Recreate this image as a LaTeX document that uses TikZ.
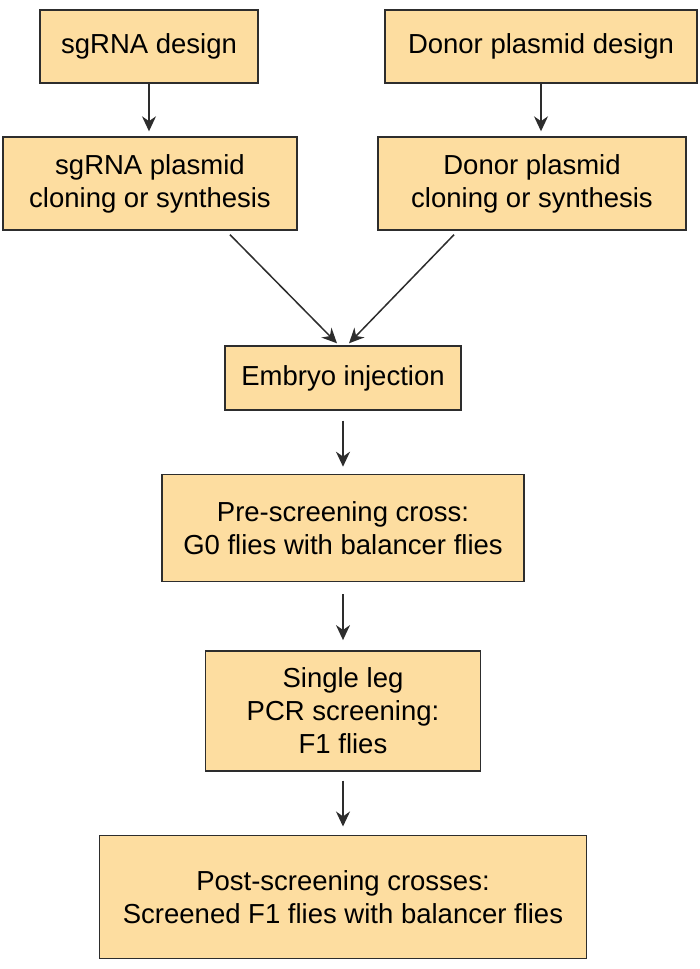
\documentclass[tikz,border=0pt]{standalone}
\usepackage{fontspec}
\setmainfont{Liberation Sans}
\usepackage{tikz}
\usetikzlibrary{arrows.meta, positioning, calc}

\definecolor{boxfill}{RGB}{253,221,160}
\definecolor{boxline}{RGB}{45,45,45}

\begin{document}
\begin{tikzpicture}[x=1pt, y=-1pt, >={Stealth[length=15pt,width=14pt]}]
        \tikzstyle{stepbox} = [rectangle, draw=boxline, line width=1.4pt, fill=boxfill, align=center, inner sep=0pt, font=\fontsize{27.5}{33}\selectfont]
        \tikzstyle{arrow} = [line width=1.5pt, draw=boxline, ->]

        \useasboundingbox (0,0) rectangle (700,969);

        \node (sgdesign) [stepbox, minimum width=218pt, minimum height=73pt] at (149,46.5) {sgRNA design};
        \node (dodesign) [stepbox, minimum width=312pt, minimum height=73pt] at (541,46.5) {Donor plasmid design};
        \node (sgclone) [stepbox, minimum width=294pt, minimum height=93pt] at (150,183.5) {sgRNA plasmid\\cloning or synthesis};
        \node (doclone) [stepbox, minimum width=308pt, minimum height=93pt] at (532,183.5) {Donor plasmid\\cloning or synthesis};
        \node (inject) [stepbox, minimum width=236pt, minimum height=64pt] at (343,378) {Embryo injection};
        \node (precross) [stepbox, minimum width=362pt, minimum height=107pt, below=63pt of inject] {Pre-screening cross:\\G0 flies with balancer flies};
        \node (legpcr) [stepbox, minimum width=275pt, minimum height=120pt, below=68pt of precross] {Single leg\\PCR screening:\\F1 flies};
        \node (postcross) [stepbox, minimum width=487pt, minimum height=123pt, below=63pt of legpcr] {Post-screening crosses:\\Screened F1 flies with balancer flies};

        \draw [arrow, shorten >=5pt] (sgdesign.south) -- (sgdesign.south |- sgclone.north);
        \draw [arrow, shorten >=5pt] (dodesign.south) -- (dodesign.south |- doclone.north);
        \draw [arrow] ($(sgclone.south)+(80,4)$) -- ($(inject.north)+(-6,-2)$);
        \draw [arrow] ($(doclone.south)+(-78,4)$) -- ($(inject.north)+(6,-2)$);
        \draw [arrow, shorten <=10pt, shorten >=7pt] (inject) -- (precross);
        \draw [arrow, shorten <=12pt, shorten >=10pt] (precross) -- (legpcr);
        \draw [arrow, shorten <=9pt, shorten >=8pt] (legpcr) -- (postcross);
    \end{tikzpicture}
\end{document}
